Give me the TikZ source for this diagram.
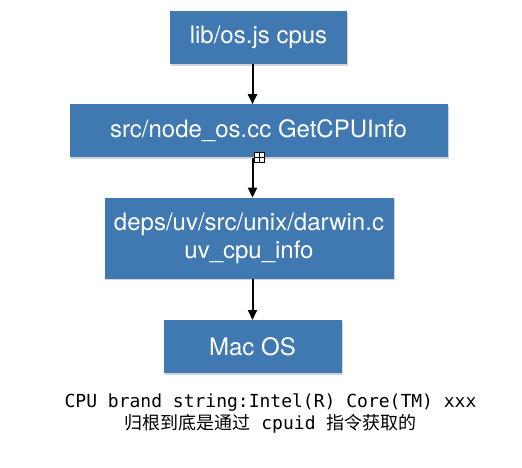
\documentclass[tikz,border=0pt]{standalone}
\usepackage{fontspec}
\setmainfont{TeX Gyre Heros}
\setmonofont{DejaVu Sans Mono}
\newfontfamily\cjk{Noto Sans CJK SC}
\usetikzlibrary{positioning,arrows.meta,shadows}

\definecolor{boxblue}{HTML}{4079B2}

\begin{document}
\begin{tikzpicture}[x=1pt,y=1pt,
  block/.style={draw=none, fill=boxblue, text=white, minimum height=53pt, inner sep=0pt,
    font=\fontsize{24}{28}\selectfont, align=center,
    drop shadow={shadow xshift=1pt, shadow yshift=-1.5pt, opacity=0.35}},
  link/.style={line width=2pt, -{Triangle[length=10pt,width=9pt]}},
  handle/.style={draw, fill=white, line width=0.8pt, minimum size=10pt, inner sep=0pt,
    path picture={\draw[line width=0.8pt] (path picture bounding box.west) -- (path picture bounding box.east)
      (path picture bounding box.north) -- (path picture bounding box.south);}},
  note/.style={font=\fontsize{18}{22}\selectfont\ttfamily, align=center, inner sep=0pt},
]
\useasboundingbox (0,0) rectangle (522,-467);

\node[block, minimum width=177pt] (lib) at (258.5,-37.5) {lib/os.js cpus};
\node[block, minimum width=378pt, below=40pt of lib] (nodeos) {src/node\_os.cc GetCPUInfo};
\node[block, minimum width=289pt, minimum height=81pt, below=40pt of nodeos, xshift=-9.5pt] (darwin)
  {deps/uv/src/unix/darwin.c\\uv\_cpu\_info};
\node[block, minimum width=178pt, below=41pt of darwin, xshift=3.5pt] (mac) {Mac OS};

\draw[link] (lib.south -| mac) -- (nodeos.north -| mac);
\draw[link] (nodeos.south -| mac) -- (darwin.north -| mac);
\draw[link] (darwin.south -| mac) -- (mac.north);

\node[handle] (plus) at ([xshift=6.5pt]nodeos.south -| mac) {};

\node[note, below=20pt of mac, xshift=18pt] (brand)
  {CPU brand string:Intel(R) Core(TM) xxx\\{\cjk 归根到底是通过} cpuid {\cjk 指令获取的}};
\end{tikzpicture}
\end{document}
